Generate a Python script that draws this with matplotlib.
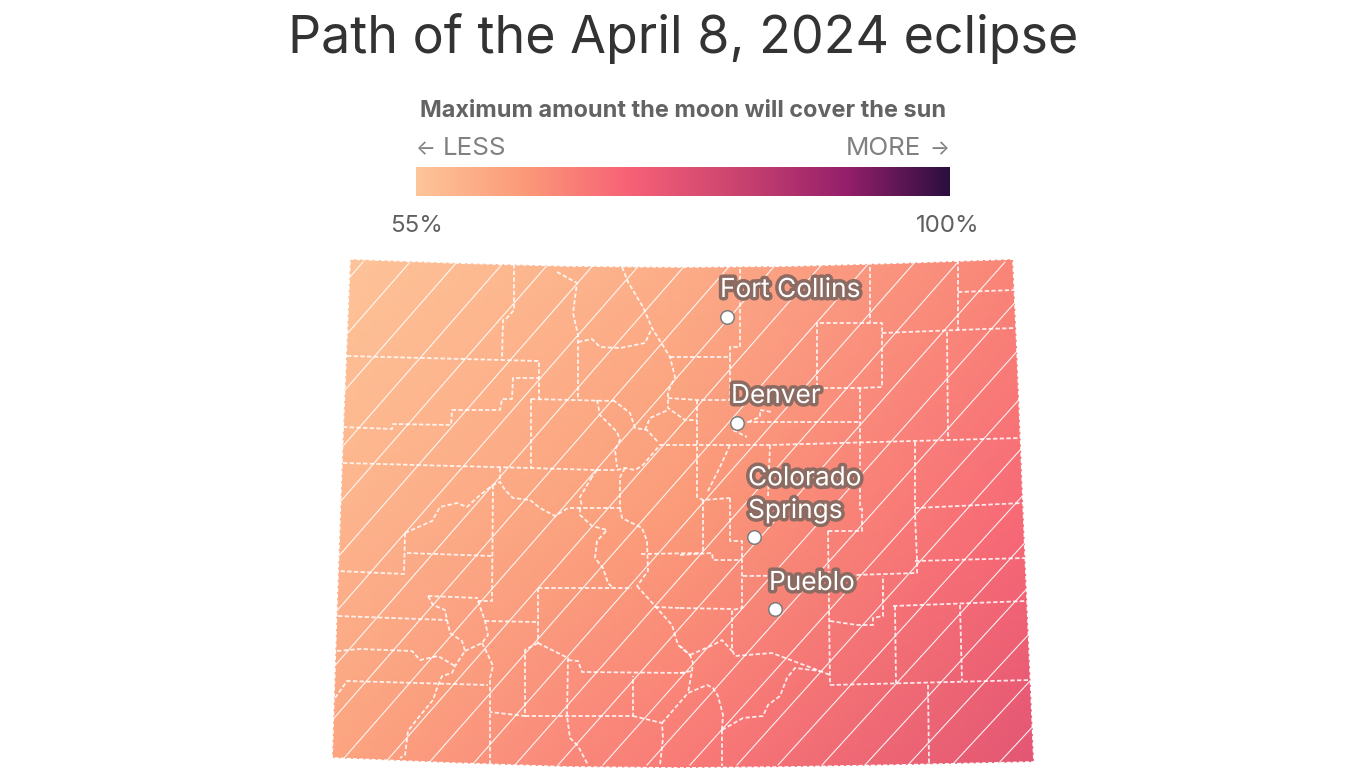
import matplotlib

matplotlib.use("Agg")
import matplotlib.patheffects as pe
import matplotlib.pyplot as plt
import numpy as np
from matplotlib.colors import LinearSegmentedColormap
from matplotlib.patches import Polygon

FONT = "Inter"

scale_positions = [0.0, 0.2, 0.4, 0.625, 0.807, 1.0]
scale_colors = ["#fec59a", "#fb9a78", "#f76176", "#c5406f", "#951f6b", "#2c0f3f"]

# coverage (%), on a coarse grid in map units
field_x = [330, 680, 1040]
field_y = [255, 510, 770]
field_coverage = [
    [55.0, 59.8, 67.8],
    [58.2, 63.8, 72.2],
    [62.0, 69.2, 77.0],
]

state_top = [(350, 259), (460, 263), (570, 266), (680, 267), (790, 266), (900, 263), (1013, 259)]
state_right = [(1017, 347), (1025, 550), (1034, 762)]
state_bottom = [(900, 765), (790, 767), (680, 768), (570, 767), (450, 763), (332, 758)]
state_left = [(337, 600), (343, 430)]

county_lines = [
    [(514, 264), (514, 310), (506, 319), (503, 320), (502, 360)],
    [(347, 356), (502, 360), (539, 361), (539, 399)],
    [(531, 399), (613, 401)],
    [(343, 427), (392, 429), (393, 424), (451, 425), (452, 410), (500, 410), (502, 399), (512, 399), (513, 378), (539, 378)],
    [(531, 399), (531, 468)],
    [(343, 463), (530, 468), (597, 470), (617, 470), (625, 468), (635, 470), (643, 465), (660, 445), (697, 445), (730, 445), (770, 445), (1020, 438)],
    [(557, 272), (577, 283), (573, 313), (578, 335), (578, 400)],
    [(578, 342), (592, 339), (600, 347), (620, 348), (645, 343), (652, 328)],
    [(622, 267), (628, 282), (643, 307), (652, 328), (670, 357), (675, 377), (668, 392), (668, 408), (685, 420), (697, 420)],
    [(670, 357), (730, 357), (730, 347), (740, 347), (740, 267)],
    [(597, 400), (600, 415), (617, 432), (620, 440), (615, 450), (617, 467)],
    [(613, 400), (630, 413), (635, 428), (647, 430), (658, 442)],
    [(645, 430), (650, 418), (668, 410)],
    [(668, 398), (697, 400), (730, 400), (730, 357)],
    [(697, 400), (697, 497), (703, 500), (730, 498)],
    [(747, 422), (860, 422)],
    [(860, 388), (860, 510)],
    [(817, 388), (860, 388), (882, 387), (882, 323), (817, 323), (817, 388)],
    [(870, 267), (870, 322)],
    [(882, 333), (957, 330), (1015, 328)],
    [(958, 260), (958, 330)],
    [(958, 292), (1015, 290)],
    [(947, 332), (948, 438)],
    [(915, 442), (915, 515), (917, 560)],
    [(915, 508), (1023, 503)],
    [(770, 445), (768, 497)],
    [(730, 445), (720, 467), (707, 493)],
    [(733, 430), (747, 437)],
    [(748, 422), (760, 417), (760, 410), (772, 412)],
    [(703, 500), (703, 553)],
    [(680, 555), (712, 553), (713, 560), (742, 560), (742, 608), (732, 610), (732, 650), (735, 656), (772, 653), (820, 671), (830, 675)],
    [(730, 498), (730, 541), (742, 541), (742, 560)],
    [(743, 576), (855, 575), (917, 573), (917, 560)],
    [(915, 561), (1025, 558)],
    [(828, 531), (862, 531), (862, 508)],
    [(828, 531), (830, 685)],
    [(830, 685), (1030, 680)],
    [(830, 621), (857, 625), (873, 625), (873, 618), (883, 616), (883, 576)],
    [(893, 606), (1027, 601)],
    [(895, 606), (896, 683)],
    [(960, 605), (962, 681)],
    [(928, 685), (929, 763)],
    [(722, 730), (722, 766)],
    [(722, 730), (743, 718), (763, 716), (768, 705), (780, 696), (787, 678), (795, 668), (820, 671)],
    [(722, 730), (723, 715), (718, 696), (713, 688), (707, 685), (688, 693), (692, 671), (693, 663), (690, 655), (680, 646)],
    [(690, 655), (713, 645), (722, 640), (732, 651)],
    [(680, 608), (732, 609)],
    [(680, 673), (692, 671)],
    [(405, 533), (432, 521), (440, 507), (457, 503), (467, 507), (480, 495), (493, 485), (500, 482), (505, 490), (513, 498), (530, 500), (540, 508), (555, 516), (568, 508), (620, 508)],
    [(500, 468), (500, 482)],
    [(493, 485), (492, 601), (478, 601)],
    [(405, 533), (404, 574), (338, 571)],
    [(407, 553), (492, 556)],
    [(428, 596), (478, 598)],
    [(428, 596), (433, 605), (445, 610), (447, 620), (450, 633), (462, 641), (465, 651), (455, 666), (452, 673), (442, 676), (437, 688), (433, 700), (418, 718), (408, 731), (405, 755), (400, 758)],
    [(338, 616), (447, 620)],
    [(337, 651), (360, 649), (412, 651), (420, 660), (438, 656), (455, 666)],
    [(335, 698), (347, 681), (488, 685)],
    [(478, 601), (485, 621), (488, 635), (482, 643), (465, 651)],
    [(482, 643), (488, 655), (493, 666), (490, 678), (490, 765)],
    [(485, 621), (538, 622)],
    [(538, 588), (538, 643)],
    [(538, 588), (632, 588)],
    [(538, 643), (525, 650), (525, 716), (490, 712)],
    [(538, 643), (552, 650), (568, 658), (567, 716), (570, 738), (578, 746), (588, 765)],
    [(525, 716), (633, 716), (633, 676)],
    [(568, 660), (578, 661), (582, 672), (685, 673)],
    [(633, 716), (662, 723), (663, 738), (660, 765)],
    [(662, 723), (688, 693)],
    [(592, 477), (580, 497), (582, 507)],
    [(597, 470), (592, 477)],
    [(625, 468), (620, 477), (620, 508)],
    [(580, 508), (580, 515), (592, 526), (607, 530), (597, 541), (595, 558), (603, 568), (608, 583), (613, 588)],
    [(620, 508), (622, 518), (642, 528), (647, 541), (648, 571), (637, 586)],
    [(641, 554), (703, 553)],
    [(637, 586), (655, 606), (672, 625), (678, 645), (690, 655)],
    [(655, 607), (680, 608)],
]

# where each diagonal crosses y=262 and y=765
stripe_top = [733, 778, 824, 870, 915, 958, 1005, 1051, 1097, 1143, 1189, 1235, 1281, 1327, 1373, 1419, 1465]
stripe_bottom = [293, 338, 383, 427, 472, 515, 558, 603, 647, 690, 737, 778, 822, 865, 908, 952, 997]
stripe_top_left = [363, 410, 457, 504, 550, 596, 642, 688]

cities = ["Fort Collins", "Denver", "Colorado\nSprings", "Pueblo"]
city_x = [727, 737, 754, 775]
city_y = [317, 423, 537, 609]
label_x = [720, 731, 748, 769]
label_y = [297, 403, 518, 590]

scale_min = 55
scale_max = 100

cmap = LinearSegmentedColormap.from_list("eclipse", list(zip(scale_positions, scale_colors)))

fig = plt.figure(figsize=(13.66, 7.68), dpi=100)
ax = fig.add_axes([0, 0, 1, 1])
ax.set_xlim(0, 1366)
ax.set_ylim(768, 0)
ax.axis("off")

# title and legend
ax.text(683, 53, "Path of the April 8, 2024 eclipse", ha="center", va="baseline",
        family=FONT, fontsize=37.4, color="#333333")
ax.text(683, 117, "Maximum amount the moon will cover the sun", ha="center", va="baseline",
        family=FONT, fontsize=16.9, fontweight="bold", color="#636363")
ax.text(416, 155, "←", ha="left", va="baseline", family=FONT, fontsize=15, color="#808080")
ax.text(443, 155, "LESS", ha="left", va="baseline", family=FONT, fontsize=18.7, color="#808080")
ax.text(921, 155, "MORE", ha="right", va="baseline", family=FONT, fontsize=18.7, color="#808080")
ax.text(949, 155, "→", ha="right", va="baseline", family=FONT, fontsize=15, color="#808080")
ax.imshow(np.linspace(scale_min, scale_max, 256).reshape(1, -1), cmap=cmap, vmin=scale_min, vmax=scale_max,
          extent=(416, 950, 196, 167), aspect="auto")
ax.text(417, 232, "55%", ha="center", va="baseline", family=FONT, fontsize=17.3, color="#606060")
ax.text(948, 232, "100%", ha="center", va="baseline", family=FONT, fontsize=17.3, color="#606060")
ax.set_xlim(0, 1366)
ax.set_ylim(768, 0)

# state shape with the colour field clipped to it
outline = state_top + state_right + state_bottom + state_left
shape = Polygon(outline, closed=True, facecolor="none", edgecolor="none", transform=ax.transData)
ax.add_patch(shape)

mesh = ax.pcolormesh(field_x, field_y, np.array(field_coverage), cmap=cmap, vmin=scale_min, vmax=scale_max,
                     shading="gouraud", zorder=1)
mesh.set_clip_path(shape)

for top, bottom in zip(stripe_top, stripe_bottom):
    line, = ax.plot([top, bottom], [262, 765], color="white", lw=0.8, alpha=0.9, zorder=2)
    line.set_clip_path(shape)
for top in stripe_top_left:
    line, = ax.plot([top, top - 440], [262, 765], color="white", lw=0.8, alpha=0.9, zorder=2)
    line.set_clip_path(shape)

for path in county_lines:
    xs, ys = zip(*path)
    ax.plot(xs, ys, color="white", lw=1.3, alpha=0.85, dashes=(2.4, 1.3), zorder=3)

xs, ys = zip(*(outline + outline[:1]))
ax.plot(xs, ys, color="white", lw=1.2, dashes=(2.4, 1.3), zorder=3)

# cities
ax.scatter(city_x, city_y, s=95, facecolor="white", edgecolor="#7d7d7d", linewidth=1.1, zorder=5)
for name, x, y in zip(cities, label_x, label_y):
    ax.text(x, y, name, ha="left", va="baseline", family=FONT, fontsize=18.9, color="white", zorder=6,
            linespacing=1.3, path_effects=[pe.withStroke(linewidth=5, foreground="#8b6b62")])

fig.savefig("out.png", dpi=100)
